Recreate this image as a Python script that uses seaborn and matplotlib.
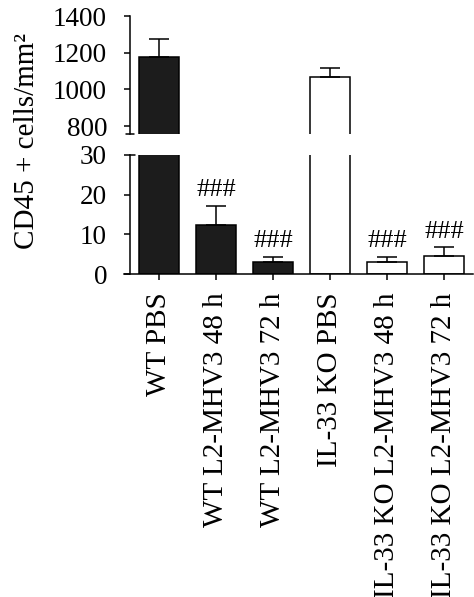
import numpy as np
import pandas as pd
import matplotlib
matplotlib.use("Agg")
import matplotlib.pyplot as plt
import seaborn as sns

# ---- data ----
categories = ["WT PBS", "WT L2-MHV3 48 h", "WT L2-MHV3 72 h",
              "IL-33 KO PBS", "IL-33 KO L2-MHV3 48 h", "IL-33 KO L2-MHV3 72 h"]
means = [1175, 12.3, 3.1, 1069, 3.1, 4.5]
errors = [100, 4.9, 1.2, 49, 1.2, 2.2]
significance = ["", "###", "###", "", "###", "###"]
bar_colors = ["#1c1c1c", "#1c1c1c", "#1c1c1c", "#ffffff", "#ffffff", "#ffffff"]
upper_ticks = [800, 1000, 1200, 1400]
lower_ticks = [0, 10, 20, 30]
ylabel = "CD45 + cells/mm²"

sns.set_theme(style="white")
plt.rcParams["font.family"] = ["Liberation Serif", "DejaVu Serif"]
FS = 19.5
FS_LAB = 21
LW = 1.1

W, H = 474, 597
fig = plt.figure(figsize=(W / 100, H / 100), dpi=100)
ax_top = fig.add_axes([124 / W, 1 - 134 / H, 349 / W, (134 - 16) / H])
ax_bot = fig.add_axes([124 / W, 1 - 274 / H, 349 / W, (274 - 155) / H])

df = pd.DataFrame({"cat": categories, "val": means})
pal = dict(zip(categories, bar_colors))
spine_off = 6 / 349

for ax in (ax_top, ax_bot):
    sns.barplot(data=df, x="cat", y="val", hue="cat", palette=pal, order=categories,
                hue_order=categories, saturation=1, edgecolor="black", linewidth=LW,
                width=0.69, legend=False, ax=ax)
    x = np.arange(len(categories))
    ax.errorbar(x, means, yerr=[np.zeros(len(means)), errors], fmt="none",
                ecolor="black", elinewidth=LW, capsize=7.2, capthick=LW, zorder=1)
    ax.set_xlim(-0.614, 5.509)
    ax.set_xlabel("")
    ax.set_ylabel("")
    for s in ("top", "right"):
        ax.spines[s].set_visible(False)
    ax.spines["left"].set_position(("axes", spine_off))
    ax.spines["left"].set_linewidth(LW)
    ax.spines["left"].set_color("black")
    ax.spines["bottom"].set_linewidth(LW)
    ax.spines["bottom"].set_color("black")
    ax.tick_params(axis="y", direction="out", length=4.5, width=LW, colors="black",
                   labelsize=FS, pad=12, left=True)
    ax.patch.set_alpha(0)

ax_top.set_ylim(757, 1400)
ax_top.set_yticks(upper_ticks)
ax_top.spines["bottom"].set_visible(False)
ax_top.set_xticks([])

ax_bot.set_ylim(0, 30)
ax_bot.set_yticks(lower_ticks)
ax_bot.set_xticks(np.arange(len(categories)))
ax_bot.set_xticklabels(categories, rotation=90, fontsize=FS_LAB, va="top", ha="center")
ax_bot.tick_params(axis="x", direction="out", length=4.5, width=LW, colors="black",
                   pad=9, bottom=True)

# break marks
bw = 4 / 349
ax_top.plot([spine_off - bw, spine_off + bw], [0, 0], transform=ax_top.transAxes,
            color="black", lw=LW, clip_on=False)
ax_bot.plot([spine_off, spine_off + bw * 1.3], [1, 1], transform=ax_bot.transAxes,
            color="black", lw=LW, clip_on=False)

# significance marks
for i, s in enumerate(significance):
    if s:
        ax_bot.annotate(s, (i, means[i] + errors[i]), xytext=(0, 7),
                        textcoords="offset points", ha="center", va="baseline",
                        fontsize=FS - 0.5, color="black")

fig.text(27 / W, 1 - 141 / H, ylabel, rotation=90, ha="center", va="center",
         fontsize=FS_LAB, color="black")

fig.savefig("out.png", dpi=100, facecolor="white")
